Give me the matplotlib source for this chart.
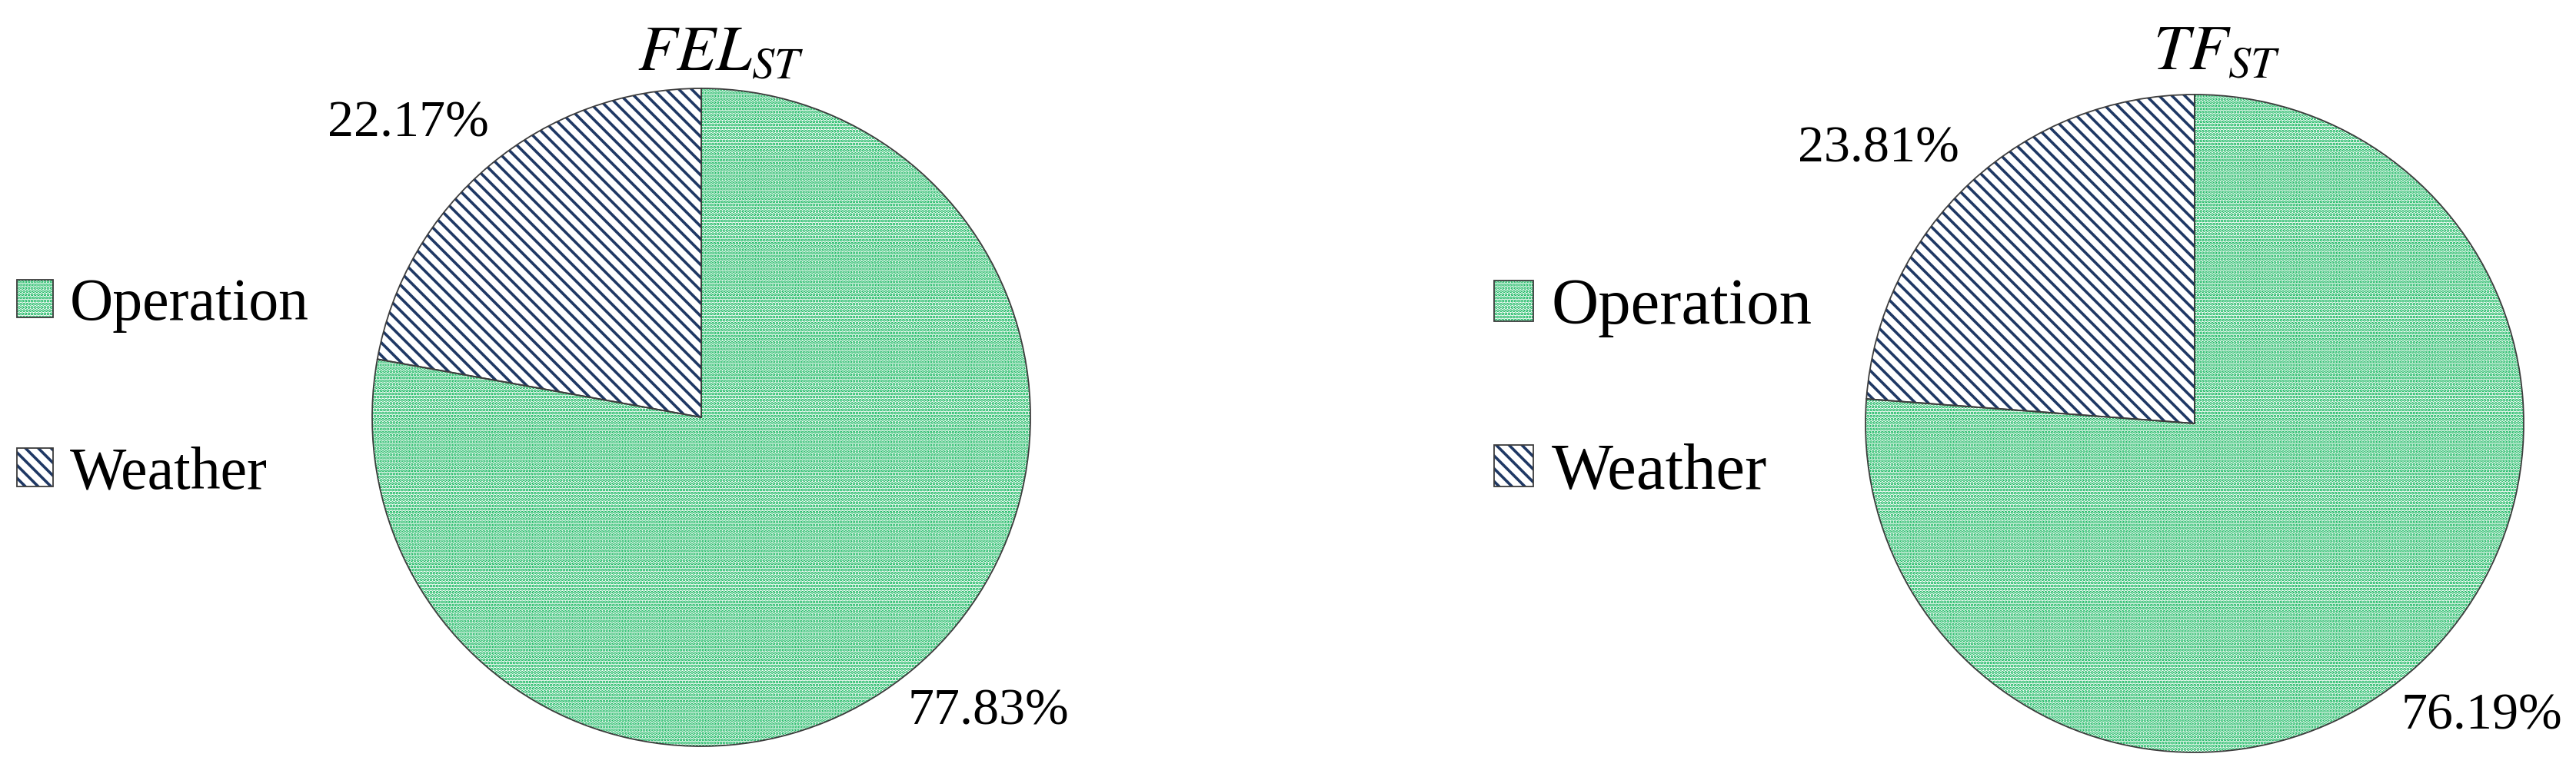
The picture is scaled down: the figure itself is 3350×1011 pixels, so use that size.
import matplotlib
matplotlib.use("Agg")
import matplotlib.pyplot as plt
from matplotlib.patches import Rectangle
from matplotlib.legend_handler import HandlerTuple

plt.rcParams['font.family'] = ['Liberation Serif', 'DejaVu Serif']
plt.rcParams['mathtext.fontset'] = 'stix'

# data
categories = ['Operation', 'Weather']
fel_st = [77.83, 22.17]
tf_st = [76.19, 23.81]
titles = ['$FEL_{ST}$', '$TF_{ST}$']

green = '#00B050'
navy = '#1F3864'
edge = '#3C3C3C'
hatches = ['....', '\\\\']
hatch_lw = [2.0, 2.6]

W, H = 3350, 1011
fig = plt.figure(figsize=(W / 100, H / 100), dpi=100)


def draw_pie(values, title, cx, cy, r, pct_pos, title_pos, leg_x, leg_y, fs_leg, spacing):
	# axes placed so the unit circle lands at (cx, cy) with radius r (pixels from top left)
	ax = fig.add_axes([(cx - r) / W, (H - cy - r) / H, 2 * r / W, 2 * r / H])
	# hatched layer, the hatch takes the edge colour
	wedges, _, autotexts = ax.pie(values, startangle=90, counterclock=False, radius=1,
		colors=['white', 'white'], autopct='%.2f%%',
		textprops={'fontsize': 49, 'color': 'black'},
		wedgeprops={'linewidth': 0})
	for w, c, h, lw in zip(wedges, [green, navy], hatches, hatch_lw):
		w.set_edgecolor(c)
		w.set_hatch(h)
		if hasattr(w, 'set_hatch_linewidth'):
			w.set_hatch_linewidth(lw)
	# outline on top
	outline, _ = ax.pie(values, startangle=90, counterclock=False, radius=1,
		colors=['none', 'none'],
		wedgeprops={'linewidth': 1.3, 'edgecolor': edge})
	for t, p in zip(autotexts, pct_pos):
		t.set_position(p)
		t.set_ha('center')
		t.set_va('center')
	ax.text(title_pos[0], title_pos[1], title, fontsize=60, ha='center', va='baseline')
	ax.set_xlim(-1, 1)
	ax.set_ylim(-1, 1)
	ax.set_aspect('equal')
	ax.axis('off')
	handles = [(w, o) for w, o in zip(wedges, outline)]
	leg = fig.legend(handles, categories, loc='center left', bbox_to_anchor=(leg_x / W, 1 - leg_y / H),
		frameon=False, fontsize=fs_leg, handlelength=0.6, handleheight=0.6,
		handletextpad=0.28, labelspacing=spacing, borderpad=0, borderaxespad=0,
		handler_map={tuple: HandlerTuple(ndivide=1)})
	# legend copies do not keep the hatch width, put it back
	for p in leg.findobj(Rectangle):
		if p.get_hatch() in hatches and hasattr(p, 'set_hatch_linewidth'):
			p.set_hatch_linewidth(hatch_lw[hatches.index(p.get_hatch())])


draw_pie(fel_st, titles[0], 912, 543, 428,
	[(0.873, -0.894), (-0.891, 0.892)], (0.06, 1.054), 22, 507, 56, 1.90)
draw_pie(tf_st, titles[1], 2854, 551, 428,
	[(0.873, -0.890), (-0.960, 0.834)], (0.068, 1.077), 1943, 508, 61, 1.62)

fig.savefig('out.png', dpi=100)
